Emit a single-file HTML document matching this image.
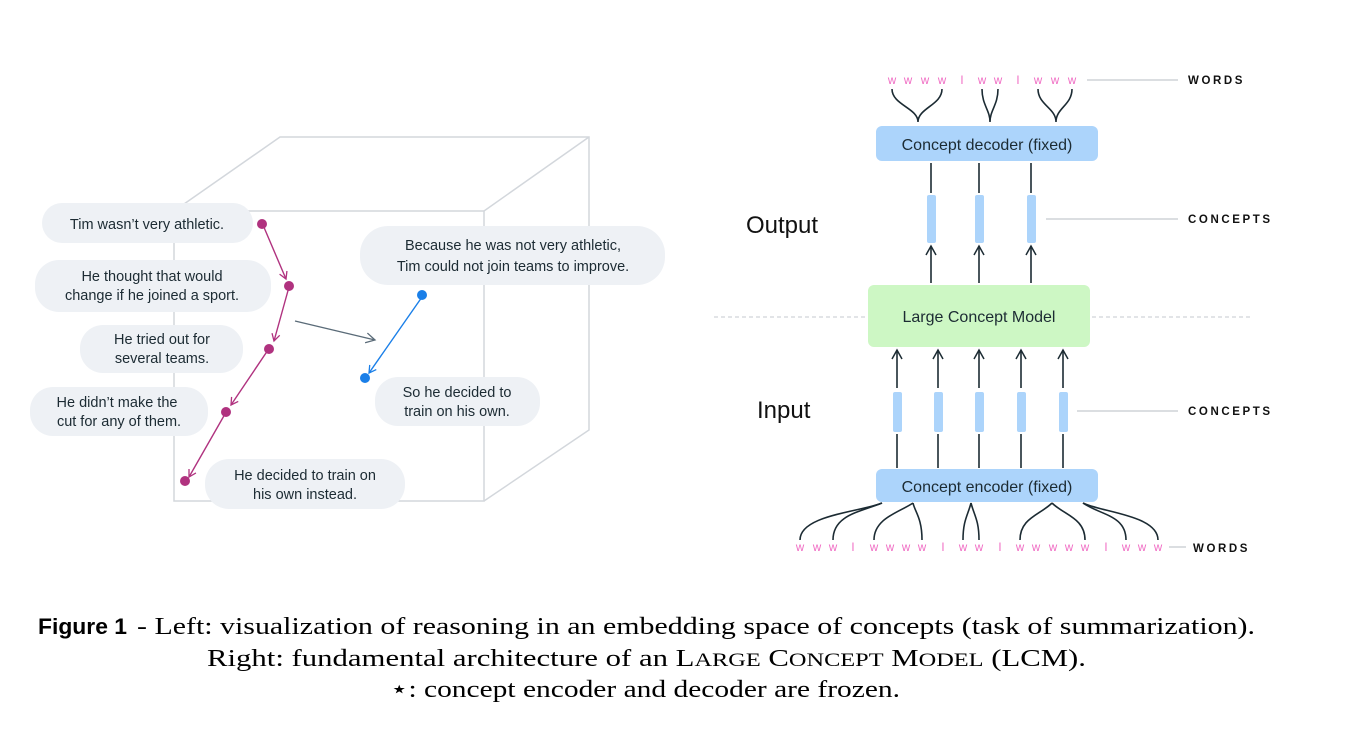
<!DOCTYPE html>
<html><head><meta charset="utf-8"><style>
html,body{margin:0;padding:0;background:#fff;width:1358px;height:731px;overflow:hidden}
svg{display:block}
.s{font-family:"Liberation Sans",sans-serif}
.b{font-family:"Liberation Sans",sans-serif;font-size:14.5px;fill:#1c2b33;text-anchor:middle}
.w{font-family:"Liberation Sans",sans-serif;font-size:11.5px;fill:#f06bc3;text-anchor:middle}
.lab{font-family:"Liberation Sans",sans-serif;font-size:11.5px;font-weight:bold;letter-spacing:2.6px;fill:#111}
.cap{font-family:"Liberation Serif",serif;font-size:24px;fill:#000}
</style></head><body>
<svg width="1358" height="731" viewBox="0 0 1358 731" xmlns="http://www.w3.org/2000/svg">
<defs>
<marker id="mp" markerWidth="10" markerHeight="10" refX="8" refY="5" orient="auto" markerUnits="userSpaceOnUse"><path d="M1,1 L8,5 L1,9" fill="none" stroke="#b0327f" stroke-width="1.3"/></marker>
<marker id="mb" markerWidth="10" markerHeight="10" refX="8" refY="5" orient="auto" markerUnits="userSpaceOnUse"><path d="M1,1 L8,5 L1,9" fill="none" stroke="#1a7fe8" stroke-width="1.3"/></marker>
<marker id="mg" markerWidth="12" markerHeight="12" refX="10" refY="6" orient="auto" markerUnits="userSpaceOnUse"><path d="M1,1 L10,6 L1,11" fill="none" stroke="#5a6b78" stroke-width="1.3"/></marker>
<marker id="md" markerWidth="12" markerHeight="12" refX="10" refY="6" orient="auto" markerUnits="userSpaceOnUse"><path d="M1,1 L10,6 L1,11" fill="none" stroke="#1c2b33" stroke-width="1.5"/></marker>
</defs>
<g fill="none" stroke="#d3d7dc" stroke-width="1.5">
<rect x="174" y="211" width="310" height="290"/>
<path d="M174,211 L280,137 L589,137 L589,430 L484,501 M484,211 L589,137"/>
</g>
<g fill="#eef1f5">
<rect x="42" y="203" width="211" height="40" rx="20"/>
<rect x="35" y="260" width="236" height="52" rx="24"/>
<rect x="80" y="325" width="163" height="48" rx="23"/>
<rect x="30" y="387" width="178" height="49" rx="23"/>
<rect x="205" y="459" width="200" height="50" rx="24"/>
<rect x="360" y="226" width="305" height="59" rx="28"/>
<rect x="375" y="377" width="165" height="49" rx="23"/>
</g>
<text class="b" x="147" y="229">Tim wasn’t very athletic.</text>
<text class="b" x="152" y="281">He thought that would</text>
<text class="b" x="152" y="300">change if he joined a sport.</text>
<text class="b" x="162" y="344">He tried out for</text>
<text class="b" x="162" y="363">several teams.</text>
<text class="b" x="117" y="407">He didn’t make the</text>
<text class="b" x="119" y="426">cut for any of them.</text>
<text class="b" x="305" y="480">He decided to train on</text>
<text class="b" x="305" y="499">his own instead.</text>
<text class="b" x="513" y="250">Because he was not very athletic,</text>
<text class="b" x="513" y="271">Tim could not join teams to improve.</text>
<text class="b" x="457" y="397">So he decided to</text>
<text class="b" x="457" y="416">train on his own.</text>
<g stroke="#b0327f" stroke-width="1.4" fill="none">
<line x1="263" y1="225" x2="286" y2="279" marker-end="url(#mp)"/>
<line x1="289" y1="287" x2="274" y2="341" marker-end="url(#mp)"/>
<line x1="268" y1="350" x2="231" y2="405" marker-end="url(#mp)"/>
<line x1="225" y1="414" x2="189" y2="477" marker-end="url(#mp)"/>
</g>
<g fill="#b0327f"><circle cx="262" cy="224" r="5"/><circle cx="289" cy="286" r="5"/><circle cx="269" cy="349" r="5"/><circle cx="226" cy="412" r="5"/><circle cx="185" cy="481" r="5"/></g>
<line x1="422" y1="297" x2="369" y2="373" stroke="#1a7fe8" stroke-width="1.4" marker-end="url(#mb)"/>
<circle cx="422" cy="295" r="5" fill="#1a7fe8"/><circle cx="365" cy="378" r="5" fill="#1a7fe8"/>
<line x1="295" y1="321" x2="375" y2="340" stroke="#5a6b78" stroke-width="1.4" marker-end="url(#mg)"/>

<line x1="714" y1="317" x2="1250" y2="317" stroke="#c5cacf" stroke-width="1" stroke-dasharray="4,3"/>
<text class="s" x="746" y="233" font-size="24" fill="#111">Output</text>
<text class="s" x="757" y="418" font-size="24" fill="#111">Input</text>
<g>
<text x="892" y="84" class="w">w</text><text x="908" y="84" class="w">w</text><text x="925" y="84" class="w">w</text><text x="942" y="84" class="w">w</text>
<text x="962" y="84" class="w">I</text>
<text x="982" y="84" class="w">w</text><text x="998" y="84" class="w">w</text>
<text x="1018" y="84" class="w">I</text>
<text x="1038" y="84" class="w">w</text><text x="1055" y="84" class="w">w</text><text x="1072" y="84" class="w">w</text>
</g>
<line x1="1087" y1="80" x2="1178" y2="80" stroke="#c5cacf" stroke-width="1.3"/>
<text class="lab" x="1188" y="84">WORDS</text>
<g fill="none" stroke="#1c2b33" stroke-width="1.6">
<path d="M892,89 C892,105 918,108 918,122 C918,108 942,105 942,89"/>
<path d="M982,89 C982,105 990,110 990,122 C990,110 998,105 998,89"/>
<path d="M1038,89 C1038,105 1056,108 1056,122 C1056,108 1072,105 1072,89"/>
<line x1="931" y1="163" x2="931" y2="193"/><line x1="979" y1="163" x2="979" y2="193"/><line x1="1031" y1="163" x2="1031" y2="193"/>
</g>
<rect x="876" y="126" width="222" height="35" rx="6" fill="#acd4fb"/>
<text class="s" x="987" y="150" font-size="16" fill="#1c2b33" text-anchor="middle">Concept decoder (fixed)</text>
<g fill="#acd4fb">
<rect x="927" y="195" width="9" height="48" rx="2"/><rect x="975" y="195" width="9" height="48" rx="2"/><rect x="1027" y="195" width="9" height="48" rx="2"/>
<rect x="893" y="392" width="9" height="40" rx="2"/><rect x="934" y="392" width="9" height="40" rx="2"/><rect x="975" y="392" width="9" height="40" rx="2"/><rect x="1017" y="392" width="9" height="40" rx="2"/><rect x="1059" y="392" width="9" height="40" rx="2"/>
</g>
<line x1="1046" y1="219" x2="1178" y2="219" stroke="#c5cacf" stroke-width="1.3"/>
<text class="lab" x="1188" y="223">CONCEPTS</text>
<line x1="1077" y1="411" x2="1178" y2="411" stroke="#c5cacf" stroke-width="1.3"/>
<text class="lab" x="1188" y="415">CONCEPTS</text>
<g stroke="#1c2b33" stroke-width="1.6" fill="none">
<line x1="931" y1="283" x2="931" y2="246" marker-end="url(#md)"/>
<line x1="979" y1="283" x2="979" y2="246" marker-end="url(#md)"/>
<line x1="1031" y1="283" x2="1031" y2="246" marker-end="url(#md)"/>
<line x1="897" y1="388" x2="897" y2="350" marker-end="url(#md)"/>
<line x1="938" y1="388" x2="938" y2="350" marker-end="url(#md)"/>
<line x1="979" y1="388" x2="979" y2="350" marker-end="url(#md)"/>
<line x1="1021" y1="388" x2="1021" y2="350" marker-end="url(#md)"/>
<line x1="1063" y1="388" x2="1063" y2="350" marker-end="url(#md)"/>
<line x1="897" y1="434" x2="897" y2="468"/><line x1="938" y1="434" x2="938" y2="468"/><line x1="979" y1="434" x2="979" y2="468"/><line x1="1021" y1="434" x2="1021" y2="468"/><line x1="1063" y1="434" x2="1063" y2="468"/>
</g>
<rect x="868" y="285" width="222" height="62" rx="6" fill="#cdf7c4"/>
<text class="s" x="979" y="322" font-size="16" fill="#1c2b33" text-anchor="middle">Large Concept Model</text>
<rect x="876" y="469" width="222" height="33" rx="6" fill="#acd4fb"/>
<text class="s" x="987" y="492" font-size="16" fill="#1c2b33" text-anchor="middle">Concept encoder (fixed)</text>
<g fill="none" stroke="#1c2b33" stroke-width="1.6">
<path d="M882,503 C860,512 800,515 800,540"/>
<path d="M882,503 C860,512 833,515 833,540"/>
<path d="M913,503 C900,512 874,518 874,540"/>
<path d="M913,503 C915,512 922,518 922,540"/>
<path d="M971,503 C968,515 963,520 963,540"/>
<path d="M971,503 C974,515 979,520 979,540"/>
<path d="M1052,503 C1040,515 1020,518 1020,540"/>
<path d="M1052,503 C1064,515 1085,518 1085,540"/>
<path d="M1083,503 C1100,515 1126,515 1126,540"/>
<path d="M1083,503 C1100,512 1158,515 1158,540"/>
</g>
<g>
<text x="800" y="551" class="w">w</text><text x="817" y="551" class="w">w</text><text x="833" y="551" class="w">w</text>
<text x="853" y="551" class="w">I</text>
<text x="874" y="551" class="w">w</text><text x="890" y="551" class="w">w</text><text x="906" y="551" class="w">w</text><text x="922" y="551" class="w">w</text>
<text x="943" y="551" class="w">I</text>
<text x="963" y="551" class="w">w</text><text x="979" y="551" class="w">w</text>
<text x="1000" y="551" class="w">I</text>
<text x="1020" y="551" class="w">w</text><text x="1036" y="551" class="w">w</text><text x="1053" y="551" class="w">w</text><text x="1069" y="551" class="w">w</text><text x="1085" y="551" class="w">w</text>
<text x="1106" y="551" class="w">I</text>
<text x="1126" y="551" class="w">w</text><text x="1142" y="551" class="w">w</text><text x="1158" y="551" class="w">w</text>
</g>
<line x1="1169" y1="547" x2="1186" y2="547" stroke="#c5cacf" stroke-width="1.3"/>
<text class="lab" x="1193" y="552">WORDS</text>

<text x="38" y="634" font-family="Liberation Sans,sans-serif" font-weight="bold" font-size="22" textLength="89" lengthAdjust="spacingAndGlyphs">Figure 1</text>
<text x="137" y="634" class="cap" textLength="1118" lengthAdjust="spacingAndGlyphs">- Left: visualization of reasoning in an embedding space of concepts (task of summarization).</text>
<text x="207" y="666" class="cap" textLength="879" lengthAdjust="spacingAndGlyphs">Right: fundamental architecture of an L<tspan font-size="19">ARGE</tspan> C<tspan font-size="19">ONCEPT</tspan> M<tspan font-size="19">ODEL</tspan> (LCM).</text>
<text x="390" y="697" class="cap" textLength="510" lengthAdjust="spacingAndGlyphs">⋆: concept encoder and decoder are frozen.</text>
</svg>
</body></html>
